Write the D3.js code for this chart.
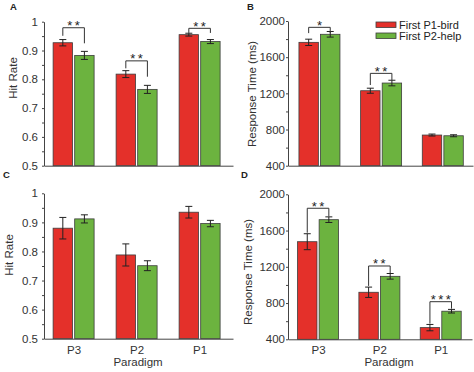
<!DOCTYPE html>
<html>
<head>
<meta charset="utf-8">
<script src="https://cdn.jsdelivr.net/npm/d3@7"></script>
<style>
  body { margin: 0; background: #fff; }
  svg { display: block; font-family: Arial, "Liberation Sans", sans-serif; }
  .axis path, .axis line { stroke: #444; }
  .axis text { fill: #333; font-size: 11.5px; }
</style>
</head>
<body>
<svg id="chart" width="474" height="372"></svg>
<script>
// categories / series
const paradigms = ['P3', 'P2', 'P1'];
const seriesNames = ['First P1-bird', 'First P2-help'];
const colors = ['#e4302a', '#6cb33f'];

// A: hit rate (top)
const hitA = [[0.927, 0.818, 0.955], [0.883, 0.765, 0.931]];
const hitAErr = [[0.011, 0.012, 0.005], [0.014, 0.014, 0.007]];
// B: response time (top)
const rtB = [[1764, 1229, 739], [1853, 1314, 731]];
const rtBErr = [[35, 28, 11], [31, 31, 11]];
// C: hit rate (bottom)
const hitC = [[0.880, 0.788, 0.935], [0.912, 0.751, 0.896]];
const hitCErr = [[0.037, 0.038, 0.020], [0.014, 0.017, 0.011]];
// D: response time (bottom)
const rtD = [[1477, 919, 529], [1720, 1095, 710]];
const rtDErr = [[88, 57, 35], [31, 31, 20]];

// tick labels
const hitTicks = [0.5, 0.6, 0.7, 0.8, 0.9, 1];
const rtTicks = [400, 800, 1200, 1600, 2000];

// significance: [paradigm, stars, bracket top, left leg end, right leg end]
const sigA = [['P3', '**', 0.979, 0.951, 0.925], ['P2', '**', 0.864, 0.838, 0.809], ['P1', '**', 0.977, 0.961, 0.961]];
const sigB = [['P3', '*', 1930, 1866, 1866], ['P2', '**', 1421, 1292, 1347]];
const sigC = [];
const sigD = [['P3', '**', 1846, 1576, 1757], ['P2', '**', 1209, 989, 1129], ['P1', '***', 815, 573, 738]];

const svg = d3.select('#chart');

function drawPanel(cfg) {
  const g = svg.append('g');
  const [x0, x1] = cfg.xr;
  const [yb, yt] = cfg.yr;

  const x = d3.scalePoint().domain(paradigms).range([x0, x1]).padding(0.5).align(cfg.align);
  const inner = d3.scaleBand().domain(d3.range(seriesNames.length)).range([-20.5, 20.5]).paddingInner(0.1);
  const y = d3.scaleLinear().domain(cfg.domain).range([yb, yt]);

  // bars
  cfg.values.forEach((vals, s) => {
    g.selectAll(null)
      .data(vals)
      .join('rect')
      .attr('x', (d, i) => x(paradigms[i]) + inner(s))
      .attr('y', d => y(d))
      .attr('width', inner.bandwidth())
      .attr('height', d => y(cfg.domain[0]) - y(d))
      .attr('fill', colors[s])
      .attr('stroke', '#3d3d3d')
      .attr('stroke-width', 0.8);
  });

  // error bars
  cfg.values.forEach((vals, s) => {
    const cx = i => x(paradigms[i]) + inner(s) + inner.bandwidth() / 2;
    const eg = g.append('g').attr('stroke', '#222').attr('stroke-width', 1);
    vals.forEach((v, i) => {
      const e = cfg.errors[s][i];
      eg.append('line').attr('x1', cx(i)).attr('x2', cx(i)).attr('y1', y(v - e)).attr('y2', y(v + e));
      eg.append('line').attr('x1', cx(i) - 3.5).attr('x2', cx(i) + 3.5).attr('y1', y(v - e)).attr('y2', y(v - e));
      eg.append('line').attr('x1', cx(i) - 3.5).attr('x2', cx(i) + 3.5).attr('y1', y(v + e)).attr('y2', y(v + e));
    });
  });

  // axes
  const minor = d3.range(0, cfg.ticks.length - 1).map(i => (cfg.ticks[i] + cfg.ticks[i + 1]) / 2);
  g.append('g')
    .attr('class', 'axis')
    .attr('transform', `translate(${x0},0)`)
    .call(d3.axisLeft(y).tickValues(minor).tickSize(2).tickFormat(''))
    .call(a => a.select('.domain').remove());
  g.append('g')
    .attr('class', 'axis')
    .attr('transform', `translate(${x0},0)`)
    .call(d3.axisLeft(y).tickValues(cfg.ticks).tickSize(2).tickSizeOuter(0)
      .tickPadding(cfg.tickPad).tickFormat(d3.format('~g')));

  g.append('g')
    .attr('class', 'axis')
    .attr('transform', `translate(0,${yb})`)
    .call(d3.axisBottom(x).tickSize(0).tickSizeOuter(0).tickPadding(7)
      .tickFormat(cfg.xLabels ? d => d : ''))
    .call(a => a.selectAll('text').style('font-size', '11.5px'));

  // significance brackets
  cfg.sig.forEach(([p, stars, top, le, re]) => {
    const lx = x(p) + inner(0) + inner.bandwidth() / 2;
    const rx = x(p) + inner(1) + inner.bandwidth() / 2;
    g.append('path')
      .attr('d', `M${lx},${y(le)}V${y(top)}H${rx}V${y(re)}`)
      .attr('fill', 'none')
      .attr('stroke', '#333')
      .attr('stroke-width', 1);
    g.append('text')
      .attr('x', (lx + rx) / 2)
      .attr('dx', 1.25)
      .attr('y', y(top) + 2.5)
      .attr('text-anchor', 'middle')
      .style('font-size', '13px')
      .style('letter-spacing', '2.5px')
      .attr('fill', '#222')
      .text(stars);
  });

  // y title
  g.append('text')
    .attr('transform', `translate(${cfg.yTitle[0]},${cfg.yTitle[1]}) rotate(-90)`)
    .attr('text-anchor', 'middle')
    .style('font-size', '11.5px')
    .attr('fill', '#333')
    .text(cfg.title);

  if (cfg.xLabels) {
    g.append('text')
      .attr('x', cfg.xTitleX)
      .attr('y', 366)
      .attr('text-anchor', 'middle')
      .style('font-size', '11.5px')
      .attr('fill', '#333')
      .text('Paradigm');
  }

  // panel letter
  g.append('text')
    .attr('x', cfg.letter[1])
    .attr('y', cfg.letter[2])
    .style('font-size', '9.5px')
    .style('font-weight', 'bold')
    .attr('fill', '#222')
    .text(cfg.letter[0]);

  return { x, y, inner };
}

drawPanel({ xr: [44, 233], yr: [165.7, 21.7], align: 0.47, domain: [0.5, 1], ticks: hitTicks, tickPad: 4,
  values: hitA, errors: hitAErr, sig: sigA, title: 'Hit Rate', yTitle: [17, 78], letter: ['A', 10, 10] });

drawPanel({ xr: [288, 473], yr: [165.7, 21], align: 0.51, domain: [400, 2000], ticks: rtTicks, tickPad: 1,
  values: rtB, errors: rtBErr, sig: sigB, title: 'Response Time (ms)', yTitle: [256, 94], letter: ['B', 247, 10] });

drawPanel({ xr: [44, 233], yr: [338.7, 193.3], align: 0.47, domain: [0.5, 1], ticks: hitTicks, tickPad: 4,
  values: hitC, errors: hitCErr, sig: sigC, title: 'Hit Rate', yTitle: [13, 255], letter: ['C', 3, 178],
  xLabels: true, xTitleX: 138 });

drawPanel({ xr: [288, 472], yr: [339.3, 194.3], align: 0.49, domain: [400, 2000], ticks: rtTicks, tickPad: 1,
  values: rtD, errors: rtDErr, sig: sigD, title: 'Response Time (ms)', yTitle: [252, 272], letter: ['D', 241, 178],
  xLabels: true, xTitleX: 389 });

// legend (panel B)
const legend = svg.append('g').attr('transform', 'translate(376,22)');
seriesNames.forEach((name, i) => {
  const row = legend.append('g').attr('transform', `translate(0,${i * 11})`);
  row.append('rect')
    .attr('width', 20).attr('height', 5.5)
    .attr('fill', colors[i]).attr('stroke', '#3d3d3d').attr('stroke-width', 0.8);
  row.append('text')
    .attr('x', 23).attr('y', 7)
    .style('font-size', '11px')
    .attr('fill', '#222')
    .text(name);
});
</script>
</body>
</html>
